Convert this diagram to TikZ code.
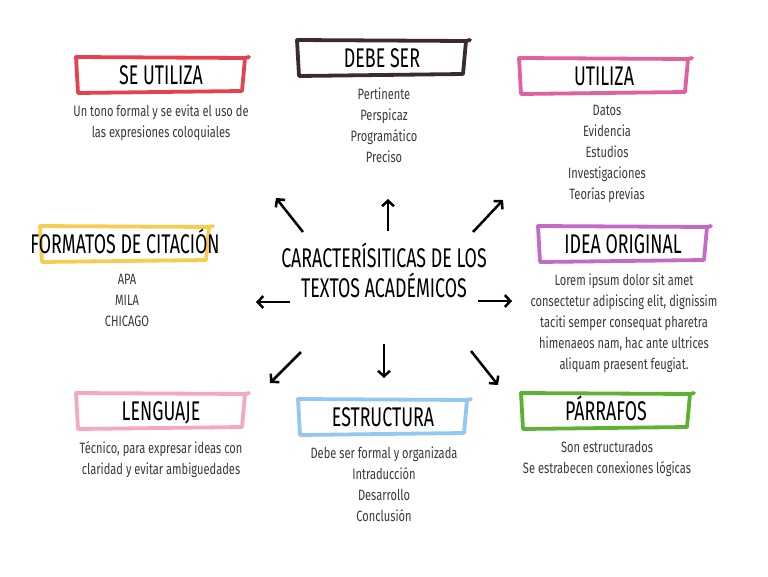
\documentclass[tikz,border=0pt]{standalone}
\usepackage{fontspec}
\setmainfont{Fira Sans}[FakeStretch=0.66]
\newfontfamily\bodyfont{Fira Sans}[FakeStretch=0.74]
\usetikzlibrary{arrows.meta,backgrounds}

\definecolor{boxred}{HTML}{E5414F}
\definecolor{boxdark}{HTML}{3B2C2C}
\definecolor{boxmagenta}{HTML}{E1609F}
\definecolor{boxyellow}{HTML}{F6CD50}
\definecolor{boxpurple}{HTML}{C36BC6}
\definecolor{boxpink}{HTML}{F4A8C4}
\definecolor{boxblue}{HTML}{93C9F0}
\definecolor{boxgreen}{HTML}{5DB233}
\definecolor{bodygray}{HTML}{3A3A3A}

\tikzset{
  head/.style={font=\fontsize{27}{30}\selectfont, anchor=base, inner sep=0pt},
  body/.style={font=\bodyfont\fontsize{15}{21}\selectfont, text=bodygray, align=center, anchor=north, inner sep=0pt},
  hbox/.style={line width=3.8pt, line cap=round, line join=round},
  ray/.style={->, >={Straight Barb[length=5.5pt,width=12pt]}, line width=2.5pt},
}

% hand drawn frame round a title
\newcommand{\handbox}[2]{%
  \begin{scope}[shift={(#1.base)}]
  \draw[hbox,#2] (-83,9) -- (-85,-27) -- (84,-26) -- (81,7) -- cycle
    (84,-26) -- (88,-27);
  \end{scope}}

\begin{document}
\begin{tikzpicture}[x=1pt,y=-1pt]
\useasboundingbox (0,0) rectangle (768,576);

\node[head, align=center] (centro) at (384,297)
{CARACTERÍSITICAS DE LOS\\TEXTOS ACADÉMICOS};

\node[head] (seutiliza) at (161,84) {SE UTILIZA};
\node[body] (seutilizaT) at (161,105)
{Un tono formal y se evita el uso de\\las expresiones coloquiales};

\node[head] (debeser) at (382,67) {DEBE SER};
\node[body] (debeserT) at (384,88)
{Pertinente\\Perspicaz\\Programático\\Preciso};

\node[head] (utiliza) at (604,85) {UTILIZA};
\node[body] (utilizaT) at (607,105)
{Datos\\Evidencia\\Estudios\\Investigaciones\\Teorías previas};

\node[head] (formatos) at (125,253) {FORMATOS DE CITACIÓN};
\node[body] (formatosT) at (127,274)
{APA\\MILA\\CHICAGO};

\node[head] (idea) at (623,253) {IDEA ORIGINAL};
\node[body] (ideaT) at (624,274)
{Lorem ipsum dolor sit amet\\consectetur adipiscing elit, dignissim\\taciti semper consequat pharetra\\himenaeos nam, hac ante ultrices\\aliquam praesent feugiat.};

\node[head] (lenguaje) at (161,420) {LENGUAJE};
\node[body] (lenguajeT) at (161,441)
{Técnico, para expresar ideas con\\claridad y evitar ambiguedades};

\node[head] (estructura) at (383,426) {ESTRUCTURA};
\node[body] (estructuraT) at (384,447)
{Debe ser formal y organizada\\Intraducción\\Desarrollo\\Conclusión};

\node[head] (parrafos) at (606,420) {PÁRRAFOS};
\node[body] (parrafosT) at (607,441)
{Son estructurados\\Se estrabecen conexiones lógicas};

\begin{scope}[on background layer]
\fill[white] (0,0) rectangle (768,576);
\handbox{seutiliza}{boxred}
\handbox{debeser}{boxdark}
\handbox{utiliza}{boxmagenta}
\handbox{formatos}{boxyellow}
\handbox{idea}{boxpurple}
\handbox{lenguaje}{boxpink}
\handbox{estructura}{boxblue}
\handbox{parrafos}{boxgreen}
\end{scope}

% rays out of the centre
\coordinate (nwA) at (303,232); \coordinate (nwB) at (276,198);
\coordinate (nA) at (388,231);  \coordinate (nB) at (388,199);
\coordinate (neA) at (473,232); \coordinate (neB) at (503,200);
\coordinate (wA) at (290,302);  \coordinate (wB) at (256,302);
\coordinate (eA) at (478,301);  \coordinate (eB) at (512,301);
\coordinate (swA) at (301,352); \coordinate (swB) at (270,383);
\coordinate (sA) at (384,344);  \coordinate (sB) at (384,378);
\coordinate (seA) at (471,351); \coordinate (seB) at (498,385);

\draw[ray] (nwA) -- (nwB);
\draw[ray] (nA) -- (nB);
\draw[ray] (neA) -- (neB);
\draw[ray] (wA) -- (wB);
\draw[ray] (eA) -- (eB);
\draw[ray] (swA) -- (swB);
\draw[ray] (sA) -- (sB);
\draw[ray] (seA) -- (seB);

\end{tikzpicture}
\end{document}
